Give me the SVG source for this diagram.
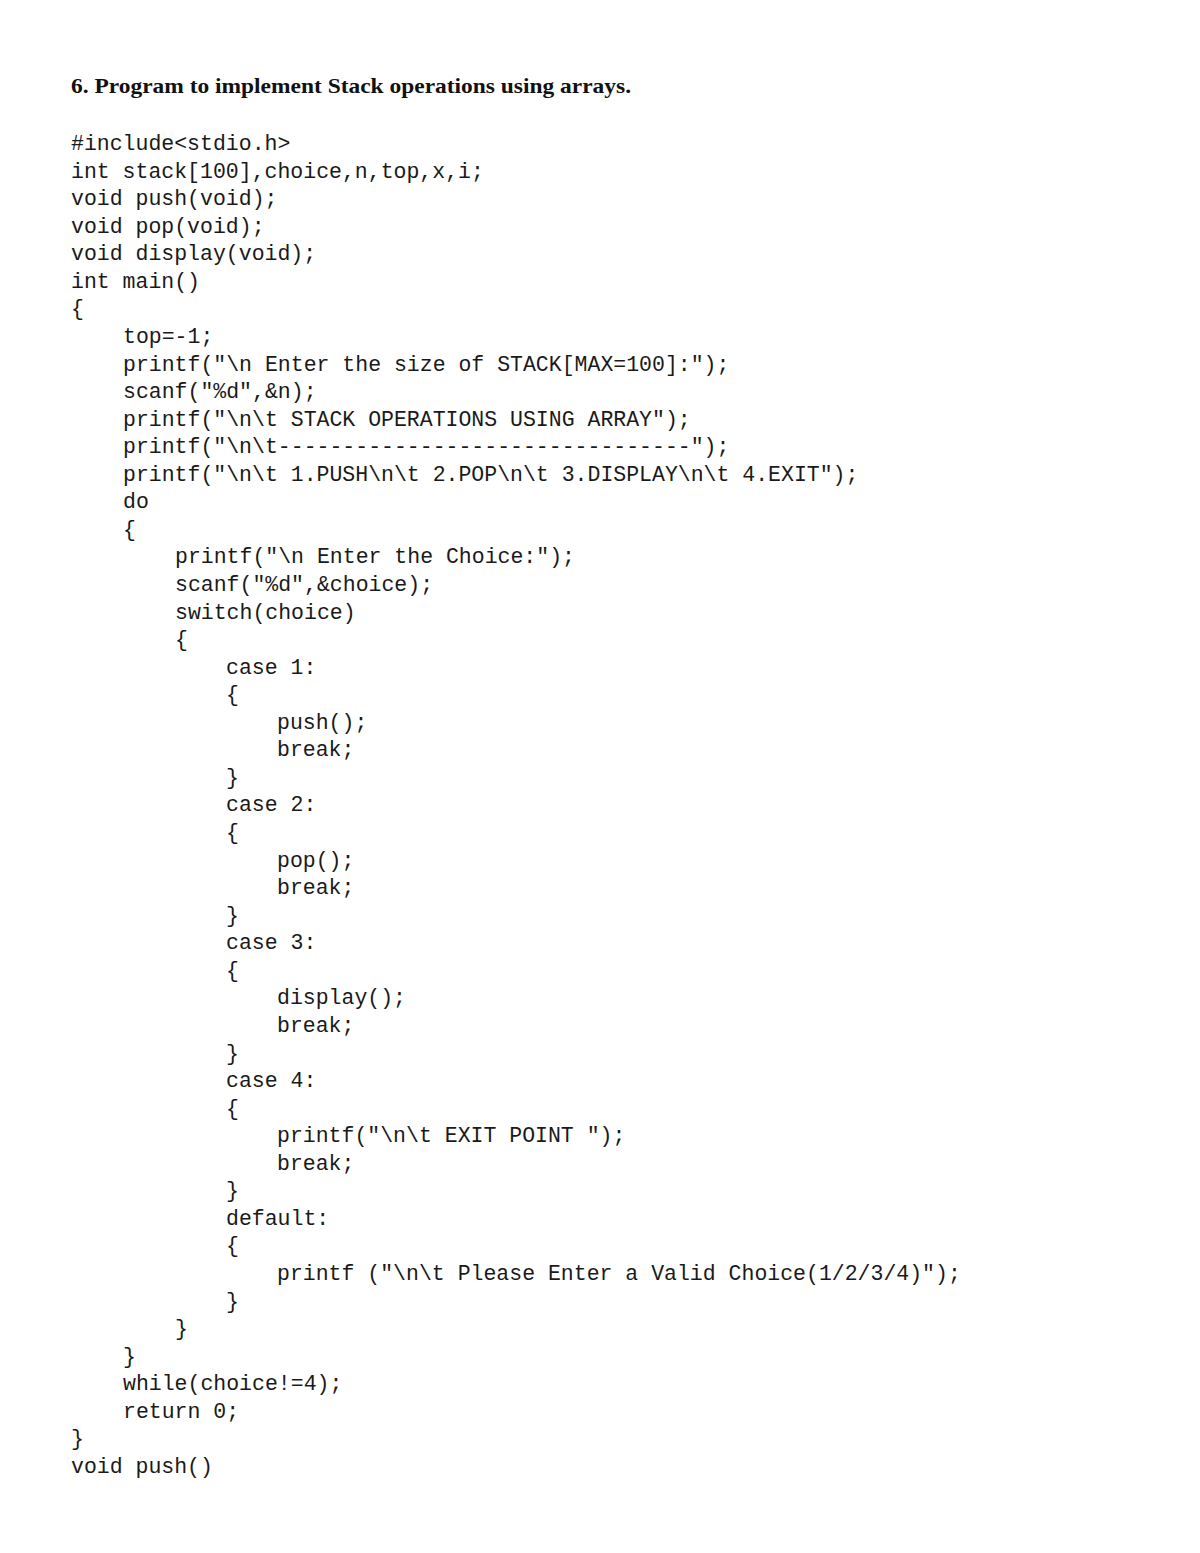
<svg xmlns="http://www.w3.org/2000/svg" width="1200" height="1553" viewBox="0 0 1200 1553">
<style>
.t{font-family:"Liberation Serif",serif;font-weight:bold;font-size:22px;fill:#111}
.c{font-family:"Liberation Mono","DejaVu Sans Mono",monospace;font-size:21.5px;fill:#1a1a1a;white-space:pre}
</style>
<rect width="1200" height="1553" fill="#fff"/>
<text class="t" x="71" y="93" textLength="560" lengthAdjust="spacingAndGlyphs">6. Program to implement Stack operations using arrays.</text>
<g id="code" class="c" xml:space="preserve">
<text x="71" y="150">#include&lt;stdio.h&gt;</text>
<text x="71" y="177.6">int stack[100],choice,n,top,x,i;</text>
<text x="71" y="205.1">void push(void);</text>
<text x="71" y="232.7">void pop(void);</text>
<text x="71" y="260.2">void display(void);</text>
<text x="71" y="287.8">int main()</text>
<text x="71" y="315.4">{</text>
<text x="123" y="342.9">top=-1;</text>
<text x="123" y="370.5">printf("\n Enter the size of STACK[MAX=100]:");</text>
<text x="123" y="398">scanf("%d",&amp;n);</text>
<text x="123" y="425.6">printf("\n\t STACK OPERATIONS USING ARRAY");</text>
<text x="123" y="453.2">printf("\n\t--------------------------------");</text>
<text x="123" y="480.7">printf("\n\t 1.PUSH\n\t 2.POP\n\t 3.DISPLAY\n\t 4.EXIT");</text>
<text x="123" y="508.3">do</text>
<text x="123" y="535.8">{</text>
<text x="175" y="563.4">printf("\n Enter the Choice:");</text>
<text x="175" y="591">scanf("%d",&amp;choice);</text>
<text x="175" y="618.5">switch(choice)</text>
<text x="175" y="646.1">{</text>
<text x="226" y="673.6">case 1:</text>
<text x="226" y="701.2">{</text>
<text x="277" y="728.8">push();</text>
<text x="277" y="756.3">break;</text>
<text x="226" y="783.9">}</text>
<text x="226" y="811.4">case 2:</text>
<text x="226" y="839">{</text>
<text x="277" y="866.6">pop();</text>
<text x="277" y="894.1">break;</text>
<text x="226" y="921.7">}</text>
<text x="226" y="949.2">case 3:</text>
<text x="226" y="976.8">{</text>
<text x="277" y="1004.4">display();</text>
<text x="277" y="1031.9">break;</text>
<text x="226" y="1059.5">}</text>
<text x="226" y="1087">case 4:</text>
<text x="226" y="1114.6">{</text>
<text x="277" y="1142.2">printf("\n\t EXIT POINT ");</text>
<text x="277" y="1169.7">break;</text>
<text x="226" y="1197.3">}</text>
<text x="226" y="1224.8">default:</text>
<text x="226" y="1252.4">{</text>
<text x="277" y="1280">printf ("\n\t Please Enter a Valid Choice(1/2/3/4)");</text>
<text x="226" y="1307.5">}</text>
<text x="175" y="1335.1">}</text>
<text x="123" y="1362.6">}</text>
<text x="123" y="1390.2">while(choice!=4);</text>
<text x="123" y="1417.8">return 0;</text>
<text x="71" y="1445.3">}</text>
<text x="71" y="1472.9">void push()</text>
</g>
</svg>
